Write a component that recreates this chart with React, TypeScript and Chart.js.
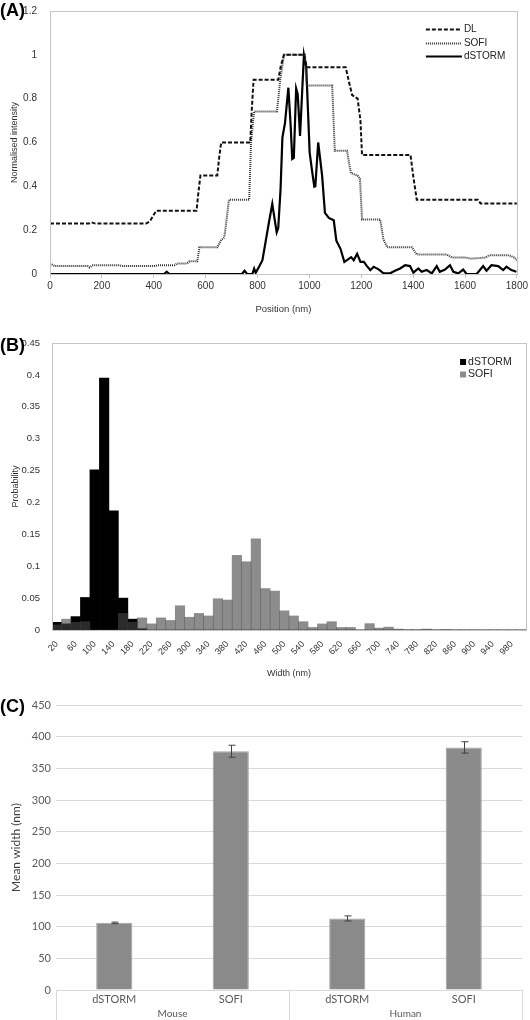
import React, { useEffect, useRef } from "react";
import { Chart, registerables } from "chart.js";

Chart.register(...registerables);

// ---------- Panel A: intensity profiles (position nm, normalised intensity) ----------
const dlProfile: [number, number][] = [
  [0, 0.23], [150, 0.23], [160, 0.236], [175, 0.23], [370, 0.23], [385, 0.24], [400, 0.27], [410, 0.289],
  [565, 0.289], [572, 0.37], [580, 0.45], [645, 0.45], [652, 0.53], [660, 0.6], [772, 0.6], [778, 0.75],
  [785, 0.886], [880, 0.886], [890, 0.95], [902, 1.0], [980, 1.0], [990, 0.943], [1140, 0.943], [1152, 0.88],
  [1165, 0.816], [1186, 0.8], [1197, 0.7], [1203, 0.543], [1390, 0.543], [1400, 0.45], [1414, 0.339],
  [1650, 0.339], [1660, 0.322], [1800, 0.322],
];

const sofiProfile: [number, number][] = [
  [0, 0.048], [18, 0.036], [145, 0.036], [152, 0.03], [165, 0.04], [268, 0.04], [280, 0.036], [405, 0.036],
  [415, 0.04], [480, 0.04], [490, 0.048], [528, 0.048], [538, 0.058], [568, 0.058], [576, 0.122], [645, 0.122],
  [660, 0.155], [672, 0.167], [680, 0.24], [690, 0.339], [768, 0.339], [775, 0.6], [787, 0.741], [875, 0.741],
  [888, 0.89], [902, 1.0], [983, 1.0], [990, 0.86], [1088, 0.86], [1098, 0.562], [1145, 0.562], [1160, 0.46],
  [1185, 0.45], [1195, 0.435], [1203, 0.249], [1273, 0.249], [1285, 0.16], [1300, 0.122], [1395, 0.122],
  [1414, 0.089], [1530, 0.089], [1550, 0.075], [1600, 0.075], [1625, 0.07], [1680, 0.075], [1692, 0.085],
  [1770, 0.085], [1790, 0.075], [1800, 0.063],
];

const stormProfile: [number, number][] = [
  [0, 0], [440, 0], [450, 0.01], [460, 0], [740, 0], [750, 0.015], [760, 0], [780, 0], [787, 0.025],
  [793, 0.005], [806, 0.033], [819, 0.063], [832, 0.152], [845, 0.242], [857, 0.32], [866, 0.25], [874, 0.19],
  [880, 0.21], [889, 0.39], [896, 0.622], [906, 0.689], [919, 0.85], [928, 0.674], [934, 0.525], [940, 0.53],
  [949, 0.846], [955, 0.82], [964, 0.63], [979, 1.0], [988, 0.943], [1001, 0.555], [1011, 0.465], [1019, 0.398],
  [1023, 0.4], [1034, 0.6], [1049, 0.45], [1060, 0.279], [1075, 0.256], [1094, 0.245], [1104, 0.152],
  [1120, 0.115], [1135, 0.055], [1145, 0.063], [1161, 0.077], [1171, 0.063], [1184, 0.092], [1197, 0.055],
  [1210, 0.055], [1222, 0.036], [1235, 0.018], [1248, 0.033], [1267, 0.021], [1286, 0.003], [1311, 0.003],
  [1330, 0.015], [1350, 0.025], [1369, 0.04], [1388, 0.036], [1401, 0.006], [1420, 0.025], [1433, 0.01],
  [1452, 0.018], [1472, 0.003], [1491, 0.036], [1503, 0.01], [1523, 0.02], [1542, 0.04], [1555, 0.01],
  [1574, 0.003], [1593, 0.02], [1606, 0], [1645, 0], [1670, 0.036], [1683, 0.015], [1702, 0.04], [1728, 0.036],
  [1747, 0.018], [1760, 0.033], [1779, 0.018], [1798, 0.01],
];

// ---------- Panel B: width histograms ----------
const widthBins = [
  "20", "40", "60", "80", "100", "120", "140", "160", "180", "200",
  "220", "240", "260", "280", "300", "320", "340", "360", "380", "400",
  "420", "440", "460", "480", "500", "520", "540", "560", "580", "600",
  "620", "640", "660", "680", "700", "720", "740", "760", "780", "800",
  "820", "840", "860", "880", "900", "920", "940", "960", "980", "1000",
];
const stormHist = [
  0.012, 0.0096, 0.021, 0.051, 0.251, 0.395, 0.187, 0.05, 0.017, 0.002,
  0, 0, 0, 0, 0, 0, 0, 0, 0, 0,
  0, 0, 0, 0, 0, 0, 0, 0, 0, 0,
  0, 0, 0, 0, 0, 0, 0, 0, 0, 0,
  0, 0, 0, 0, 0, 0, 0, 0, 0, 0,
];
const sofiHist = [
  0.008, 0.017, 0.012, 0.013, 0, 0, 0, 0.026, 0.012, 0.019,
  0.0096, 0.019, 0.015, 0.038, 0.02, 0.026, 0.022, 0.049, 0.047, 0.117,
  0.107, 0.143, 0.065, 0.061, 0.03, 0.022, 0.013, 0.004, 0.0095, 0.013,
  0.004, 0.004, 0, 0.01, 0.003, 0.0045, 0.0015, 0.0005, 0.0005, 0.0015,
  0.0003, 0.0008, 0.0003, 0.0002, 0.0002, 0.0001, 0.0001, 0.0001, 0.0001, 0.0001,
];

// ---------- Panel C: mean widths ----------
const methodNames = ["dSTORM", "SOFI", "dSTORM", "SOFI"];
const groupNames = ["Mouse", "Human"];
const meanWidths = [106, 377, 113, 383];
const widthErrors = [1.2, 9.5, 4, 9];

const FONT_A = "'Liberation Sans', Arial, sans-serif";
const FONT_C = "Lato, 'Open Sans', sans-serif";

const trimNum = (v: number) => String(Math.round(v * 1000) / 1000);

const boxPlugin = {
  id: "box",
  afterDraw(chart: any, _a: any, opts: any) {
    if (!opts || !opts.color) return;
    const { ctx, chartArea } = chart;
    const { left, top, right, bottom } = chartArea;
    ctx.save();
    ctx.strokeStyle = opts.color;
    ctx.lineWidth = 1;
    ctx.strokeRect(Math.round(left) + 0.5, Math.round(top) + 0.5, Math.round(right - left), Math.round(bottom - top));
    ctx.restore();
  },
};

const lineLegendPlugin = {
  id: "lineLegend",
  afterDraw(chart: any, _a: any, opts: any) {
    if (!opts || !opts.display) return;
    const { ctx, chartArea } = chart;
    ctx.save();
    ctx.font = opts.font;
    ctx.textBaseline = "middle";
    chart.data.datasets.forEach((ds: any, i: number) => {
      const y = Math.round(chartArea.top + opts.top + i * opts.rowHeight) + 0.5;
      const x0 = chartArea.right - opts.right;
      ctx.beginPath();
      ctx.strokeStyle = ds.borderColor;
      ctx.lineWidth = ds.borderWidth;
      ctx.setLineDash(ds.borderDash || []);
      ctx.moveTo(x0, y);
      ctx.lineTo(x0 + opts.sampleWidth, y);
      ctx.stroke();
      ctx.setLineDash([]);
      ctx.fillStyle = opts.textColor;
      ctx.fillText(ds.label, x0 + opts.sampleWidth + 2, y);
    });
    ctx.restore();
  },
};

const boxLegendPlugin = {
  id: "boxLegend",
  afterDraw(chart: any, _a: any, opts: any) {
    if (!opts || !opts.display) return;
    const { ctx, chartArea } = chart;
    ctx.save();
    ctx.font = opts.font;
    ctx.textBaseline = "middle";
    chart.data.datasets.forEach((ds: any, i: number) => {
      const y = chartArea.top + opts.top + i * opts.rowHeight;
      const x0 = chartArea.right - opts.right;
      ctx.fillStyle = opts.swatches[i];
      ctx.fillRect(x0, y - 3, 6, 6);
      ctx.fillStyle = opts.textColor;
      ctx.fillText(ds.label, x0 + 8, y);
    });
    ctx.restore();
  },
};

const errorBarPlugin = {
  id: "errorBars",
  afterDatasetsDraw(chart: any, _a: any, opts: any) {
    if (!opts || !opts.errors) return;
    const { ctx } = chart;
    const yScale = chart.scales.y;
    const meta = chart.getDatasetMeta(0);
    const values = chart.data.datasets[0].data as number[];
    ctx.save();
    ctx.strokeStyle = opts.color;
    ctx.lineWidth = 1;
    meta.data.forEach((bar: any, i: number) => {
      const v = values[i];
      const e = opts.errors[i];
      const x = Math.round(bar.x) + 0.5;
      const yt = yScale.getPixelForValue(v + e);
      const yb = yScale.getPixelForValue(v - e);
      ctx.beginPath();
      ctx.moveTo(x, yt);
      ctx.lineTo(x, yb);
      ctx.moveTo(x - 3, yt);
      ctx.lineTo(x + 4, yt);
      ctx.moveTo(x - 3, yb);
      ctx.lineTo(x + 4, yb);
      ctx.stroke();
    });
    ctx.restore();
  },
};

const groupLinesPlugin = {
  id: "groupLines",
  afterDraw(chart: any, _a: any, opts: any) {
    if (!opts || !opts.color) return;
    const { ctx, chartArea } = chart;
    const x = chart.scales.x;
    const n = x.getLabels().length;
    const per = opts.perGroup;
    const xs: number[] = [chartArea.left, chartArea.right];
    for (let i = per; i < n; i += per) {
      xs.push((x.getPixelForValue(i - 1) + x.getPixelForValue(i)) / 2);
    }
    ctx.save();
    ctx.strokeStyle = opts.color;
    ctx.lineWidth = 1;
    xs.forEach((px) => {
      const p = Math.round(px) + 0.5;
      ctx.beginPath();
      ctx.moveTo(p, chartArea.bottom);
      ctx.lineTo(p, chart.height);
      ctx.stroke();
    });
    ctx.restore();
  },
};

function configA(): any {
  const toPts = (arr: [number, number][]) => arr.map(([x, y]) => ({ x, y }));
  return {
    type: "line",
    data: {
      datasets: [
        { label: "DL", data: toPts(dlProfile), borderColor: "#111", borderWidth: 2, borderDash: [4, 2], pointRadius: 0, tension: 0 },
        { label: "SOFI", data: toPts(sofiProfile), borderColor: "#333", borderWidth: 2, borderDash: [1, 1], pointRadius: 0, tension: 0 },
        { label: "dSTORM", data: toPts(stormProfile), borderColor: "#000", borderWidth: 2.2, pointRadius: 0, tension: 0 },
      ],
    },
    options: {
      responsive: false,
      animation: false,
      layout: { padding: { top: 5, right: 11, left: 0, bottom: 0 } },
      plugins: {
        legend: { display: false },
        tooltip: { enabled: false },
        box: { color: "#c4c4c4" },
        lineLegend: { display: true, font: `10px ${FONT_A}`, textColor: "#222", top: 18, rowHeight: 13.5, right: 91, sampleWidth: 36 },
      },
      scales: {
        x: {
          type: "linear",
          min: 0,
          max: 1800,
          afterFit: (s: any) => { s.height = 41; },
          ticks: { stepSize: 200, color: "#333", font: { family: FONT_A, size: 10 }, padding: 2, maxRotation: 0, callback: (v: any) => trimNum(Number(v)) },
          grid: { display: true, drawOnChartArea: false, drawTicks: true, tickLength: 4, color: "#c4c4c4" },
          border: { display: true, color: "#c4c4c4" },
          title: { display: true, text: "Position (nm)", color: "#333", font: { family: FONT_A, size: 9.5 }, padding: { top: 4, bottom: 0 } },
        },
        y: {
          min: 0,
          max: 1.2,
          afterFit: (s: any) => { s.width = 50; },
          ticks: { stepSize: 0.2, color: "#333", font: { family: FONT_A, size: 10 }, padding: 5, callback: (v: any) => trimNum(Number(v)) },
          grid: { display: false },
          border: { display: true, color: "#c4c4c4" },
          title: { display: true, text: "Normalised intensity", color: "#333", font: { family: FONT_A, size: 9 }, padding: { top: 9, bottom: 0 } },
        },
      },
    },
    plugins: [boxPlugin, lineLegendPlugin],
  };
}

function configB(): any {
  return {
    type: "bar",
    data: {
      labels: widthBins,
      datasets: [
        { label: "dSTORM", data: stormHist, backgroundColor: "#000", borderWidth: 0, grouped: false, barPercentage: 1, categoryPercentage: 1, order: 1 },
        { label: "SOFI", data: sofiHist, backgroundColor: "rgba(70,70,70,0.62)", borderWidth: 0, grouped: false, barPercentage: 1, categoryPercentage: 1, order: 0 },
      ],
    },
    options: {
      responsive: false,
      animation: false,
      layout: { padding: { top: 13, right: 3, left: 0, bottom: 0 } },
      plugins: {
        legend: { display: false },
        tooltip: { enabled: false },
        box: { color: "#c4c4c4" },
        boxLegend: { display: true, font: `10.5px ${FONT_A}`, textColor: "#222", top: 19, rowHeight: 12.5, right: 66, swatches: ["#000", "#8c8c8c"] },
      },
      scales: {
        x: {
          afterFit: (s: any) => { s.height = 50; },
          ticks: {
            autoSkip: false,
            minRotation: 45,
            maxRotation: 45,
            color: "#333",
            font: { family: FONT_A, size: 9 },
            padding: 1,
            callback: (_v: any, i: number) => (i % 2 === 0 ? widthBins[i] : ""),
          },
          grid: { display: false },
          border: { display: true, color: "#c4c4c4" },
          title: { display: true, text: "Width (nm)", color: "#333", font: { family: FONT_A, size: 9 }, padding: { top: 0, bottom: 1 } },
        },
        y: {
          min: 0,
          max: 0.45,
          afterFit: (s: any) => { s.width = 52; },
          ticks: { stepSize: 0.05, color: "#333", font: { family: FONT_A, size: 9.5 }, padding: 4, callback: (v: any) => trimNum(Number(v)) },
          grid: { display: false },
          border: { display: true, color: "#c4c4c4" },
          title: { display: true, text: "Probability", color: "#333", font: { family: FONT_A, size: 9 }, padding: { top: 10, bottom: 0 } },
        },
      },
    },
    plugins: [boxPlugin, boxLegendPlugin],
  };
}

function configC(): any {
  return {
    type: "bar",
    data: {
      labels: methodNames,
      datasets: [
        { label: "Mean width", data: meanWidths, backgroundColor: "#8a8a8a", borderColor: "#a0a0a0", borderWidth: 1, barPercentage: 0.31, categoryPercentage: 1 },
      ],
    },
    options: {
      responsive: false,
      animation: false,
      layout: { padding: { top: 15, right: 8, left: 0, bottom: 0 } },
      plugins: {
        legend: { display: false },
        tooltip: { enabled: false },
        errorBars: { errors: widthErrors, color: "#404040" },
        groupLines: { color: "#d9d9d9", perGroup: 2 },
      },
      scales: {
        x: {
          weight: 0,
          afterFit: (s: any) => { s.height = 16; },
          ticks: { color: "#595959", font: { family: FONT_C, size: 11 }, padding: 3 },
          grid: { display: false, drawTicks: false },
          border: { display: true, color: "#d9d9d9" },
        },
        x2: {
          type: "category",
          labels: groupNames,
          position: "bottom",
          offset: true,
          weight: 1,
          afterFit: (s: any) => { s.height = 14; },
          ticks: { color: "#595959", font: { family: FONT_C, size: 10 }, padding: 2 },
          grid: { display: false, drawTicks: false },
          border: { display: false },
        },
        y: {
          min: 0,
          max: 450,
          afterFit: (s: any) => { s.width = 56; },
          ticks: { stepSize: 50, color: "#595959", font: { family: FONT_C, size: 11 }, padding: 5 },
          grid: { display: true, color: "#d9d9d9", drawTicks: false },
          border: { display: false },
          title: { display: true, text: "Mean width (nm)", color: "#404040", font: { family: FONT_C, size: 12 }, padding: { top: 9, bottom: 0 } },
        },
      },
    },
    plugins: [errorBarPlugin, groupLinesPlugin],
  };
}

export default function App() {
  const refA = useRef<HTMLCanvasElement>(null);
  const refB = useRef<HTMLCanvasElement>(null);
  const refC = useRef<HTMLCanvasElement>(null);

  useEffect(() => {
    document.body.style.margin = "0";
    const charts = [
      new Chart(refA.current as HTMLCanvasElement, configA()),
      new Chart(refB.current as HTMLCanvasElement, configB()),
      new Chart(refC.current as HTMLCanvasElement, configC()),
    ];
    return () => charts.forEach((c) => c.destroy());
  }, []);

  const panelLabel: React.CSSProperties = {
    position: "absolute",
    left: 0,
    font: `bold 18px ${FONT_A}`,
    lineHeight: "18px",
    color: "#000",
  };

  return (
    <div style={{ position: "relative", width: 530, height: 1020, background: "#fff", overflow: "hidden" }}>
      <canvas ref={refA} width={530} height={315} style={{ position: "absolute", left: 0, top: 0, width: 530, height: 315 }} />
      <canvas ref={refB} width={530} height={350} style={{ position: "absolute", left: 0, top: 330, width: 530, height: 350 }} />
      <canvas ref={refC} width={530} height={330} style={{ position: "absolute", left: 0, top: 690, width: 530, height: 330 }} />
      <div style={{ ...panelLabel, top: 1 }}>(A)</div>
      <div style={{ ...panelLabel, top: 336 }}>(B)</div>
      <div style={{ ...panelLabel, top: 697 }}>(C)</div>
    </div>
  );
}
